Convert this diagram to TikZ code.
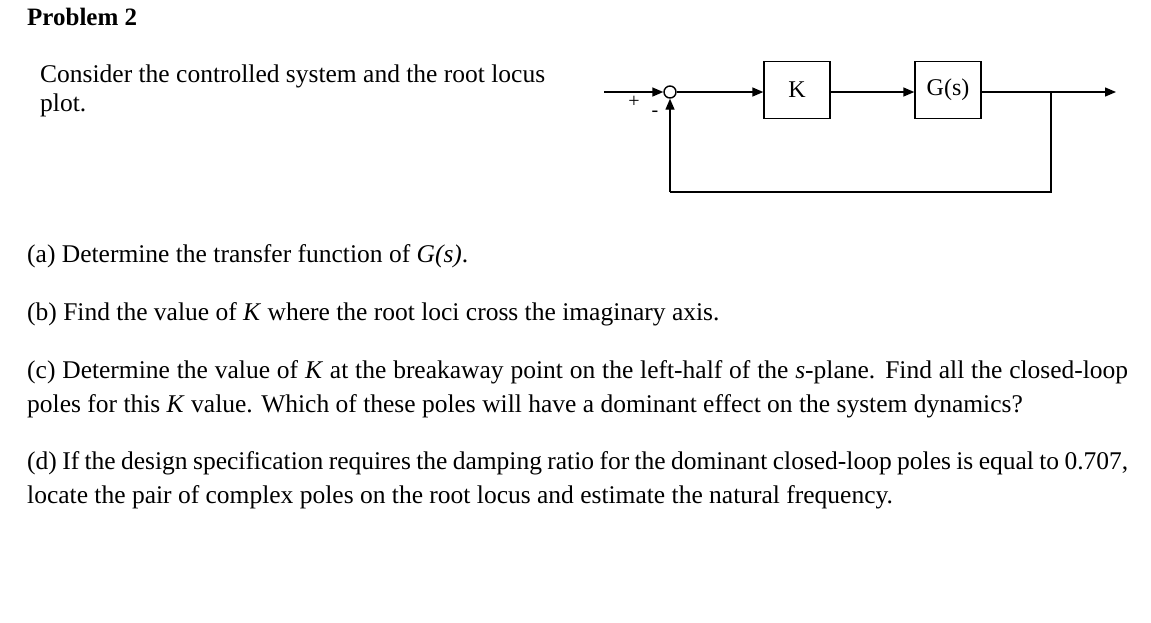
\documentclass[tikz,border=0pt]{standalone}
\usepackage{fontspec}
\setmainfont{Liberation Serif}
\usetikzlibrary{arrows.meta}
\begin{document}
\begin{tikzpicture}[x=1pt,y=-1pt,
  txt/.style={anchor=base west,inner sep=0pt,font=\fontsize{25.5}{35}\selectfont},
  par/.style={anchor=north west,inner sep=0pt,text width=1101pt,align=justify,font=\fontsize{25.5}{34}\selectfont},
  blk/.style={draw,line width=1.4pt,minimum width=66pt,minimum height=57pt,inner sep=0pt,font=\fontsize{24}{26}\selectfont},
  sig/.style={line width=1.4pt,-{Triangle[length=11pt,width=9pt]}},
  ln/.style={line width=1.4pt}]
\useasboundingbox (0,0) rectangle (1151,622);
\node[txt,font=\bfseries\fontsize{25}{28}\selectfont] (title) at (27,25) {Problem 2};
\node[txt] (intro1) at (40,82) {Consider the controlled system and the root locus};
\node[txt] (intro2) at (40,111) {plot.};
% block diagram
\coordinate (in) at (604,92);
\node[circle,draw,line width=1.4pt,minimum size=12pt,inner sep=0pt] (sum) at (670,92) {};
\node[blk] (K) at (797,90) {K};
\node[blk] (G) at (948,90) {G(s)};
\coordinate (br) at (1051,92);
\coordinate (out) at (1116,92);
\coordinate (fb1) at (1051,192);
\coordinate (fb2) at (670,192);
\draw[sig] (in) -- (sum.west);
\draw[sig] (sum.east) -- (K.west |- sum);
\draw[sig] (K.east |- sum) -- (G.west |- sum);
\draw[sig] (G.east |- sum) -- (out);
\draw[ln] (br) -- (fb1) -- (fb2);
\draw[sig] (fb2) -- (sum.south);
\node[font=\fontsize{20}{22}\selectfont,inner sep=0pt] (plus) at (634,102) {+};
\node[font=\fontsize{20}{22}\selectfont,inner sep=0pt] (minus) at (655,114) {-};
% questions
\node[txt] (qa) at (27,262) {(a) Determine the transfer function of \textit{G(s)}.};
\node[txt] (qb) at (27,320) {(b) Find the value of \textit{K} where the root loci cross the imaginary axis.};
\node[par] (qc) at (27,360) {(c) Determine the value of \textit{K} at the breakaway point on the left-half of the \textit{s}-plane. Find all the closed-loop poles for this \textit{K} value. Which of these poles will have a dominant effect on the system dynamics?};
\node[par] (qd) at (27,451) {(d) If the design specification requires the damping ratio for the dominant closed-loop poles is equal to 0.707, locate the pair of complex poles on the root locus and estimate the natural frequency.};
\end{tikzpicture}
\end{document}
